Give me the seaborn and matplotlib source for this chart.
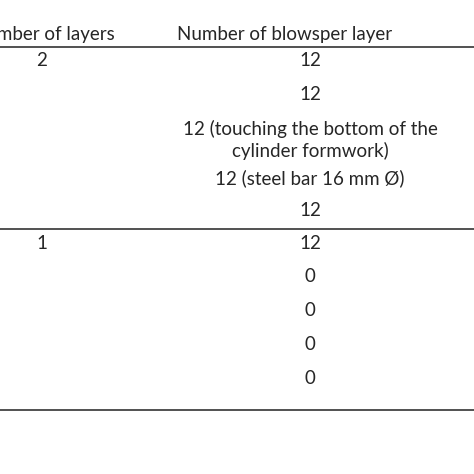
import matplotlib
matplotlib.use("Agg")
import matplotlib.pyplot as plt
import seaborn as sns

sns.set_theme(style="white")
plt.rcParams['font.family'] = ['Lato', 'DejaVu Sans']

headers = ["Number of layers", "Number of blowsper layer"]
layers = ["2", "", "", "", "", "1", "", "", "", ""]
blows = ["12", "12", "12 (touching the bottom of the\ncylinder formwork)",
         "12 (steel bar 16 mm Ø)", "12", "12", "0", "0", "0", "0"]
row_y = [60, 94, 140, 178, 211, 243, 277, 311, 345, 379]
rule_y = [47, 229, 410]

fig = plt.figure(figsize=(4.74, 4.74), dpi=100)
ax = fig.add_axes([0, 0, 1, 1])
ax.set_xlim(0, 474)
ax.set_ylim(474, 0)
ax.axis("off")

fs = 13.5
ax.text(115, 34, headers[0], ha="right", va="center", fontsize=fs)
ax.text(285, 34, headers[1], ha="center", va="center", fontsize=fs)
for y, a, b in zip(row_y, layers, blows):
    if a:
        ax.text(42, y, a, ha="center", va="center", fontsize=fs)
    ax.text(310, y, b, ha="center", va="center", fontsize=fs, linespacing=1.3)
for y in rule_y:
    ax.plot([0, 474], [y, y], color="#333333", lw=1.2)

fig.savefig("out.png", dpi=100)
